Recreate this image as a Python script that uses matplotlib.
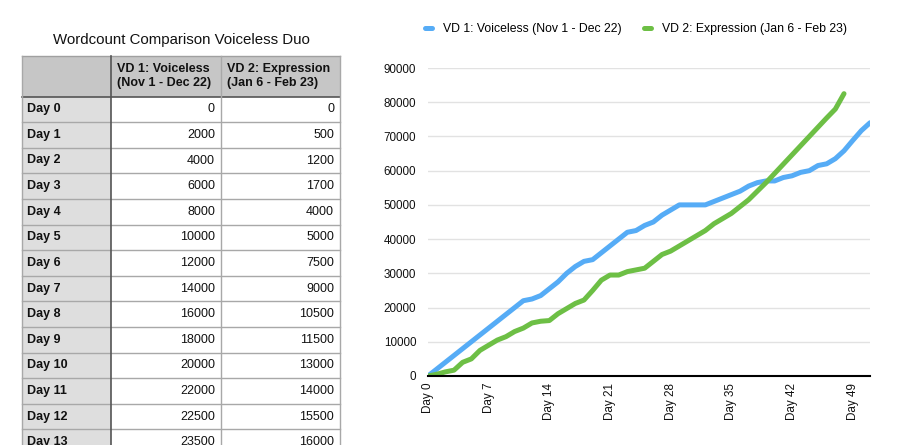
import numpy as np
import matplotlib
matplotlib.use("Agg")
import matplotlib.pyplot as plt
from matplotlib.patches import Rectangle

plt.rcParams['font.family'] = ['Liberation Sans', 'DejaVu Sans']

# word counts per day
vd1 = [0, 2000, 4000, 6000, 8000, 10000, 12000, 14000, 16000, 18000,
       20000, 22000, 22500, 23500, 25500, 27500, 30000, 32000, 33500, 34000,
       36000, 38000, 40000, 42000, 42500, 44000, 45000, 47000, 48500, 50000,
       50000, 50000, 50000, 51000, 52000, 53000, 54000, 55500, 56500, 57000,
       57000, 58000, 58500, 59500, 60000, 61500, 62000, 63500, 65800, 68800,
       71700, 74000]
vd2 = [0, 500, 1200, 1700, 4000, 5000, 7500, 9000, 10500, 11500,
       13000, 14000, 15500, 16000, 16200, 18200, 19700, 21200, 22200, 25000,
       28000, 29500, 29500, 30500, 31000, 31500, 33500, 35500, 36500, 38000,
       39500, 41000, 42500, 44500, 46000, 47500, 49500, 51500, 54000, 56500,
       59200, 61900, 64600, 67300, 70000, 72700, 75400, 78000, 82500]

label1 = "VD 1: Voiceless (Nov 1 - Dec 22)"
label2 = "VD 2: Expression (Jan 6 - Feb 23)"
head1 = "VD 1: Voiceless\n(Nov 1 - Dec 22)"
head2 = "VD 2: Expression\n(Jan 6 - Feb 23)"
table_rows = 14

blue = "#56acf6"
green = "#6dbf45"

fig = plt.figure(figsize=(9.01, 4.45), dpi=100)

# ---- table on the left (pixel coordinates) ----
tab = fig.add_axes([0, 0, 1, 1])
tab.set_xlim(0, 901)
tab.set_ylim(445, 0)
tab.axis("off")

cols = [22, 111, 221, 340]
top, head_h, row_h = 55.5, 41, 25.6
fs = 9

tab.text(181, 40, "Wordcount Comparison Voiceless Duo", ha="center", va="center",
         fontsize=10.8, color="#111111")

# header
tab.add_patch(Rectangle((cols[0], top), cols[3] - cols[0], head_h,
                        facecolor="#c6c6c6", edgecolor="none"))
tab.text(cols[1] + 6, top + head_h / 2, head1, ha="left", va="center",
         fontsize=fs, fontweight="bold", linespacing=1.3, color="#111111")
tab.text(cols[2] + 6, top + head_h / 2, head2, ha="left", va="center",
         fontsize=fs, fontweight="bold", linespacing=1.3, color="#111111")

for i in range(table_rows):
    y0 = top + head_h + i * row_h
    tab.add_patch(Rectangle((cols[0], y0), cols[1] - cols[0], row_h,
                            facecolor="#dedede", edgecolor="none"))
    tab.text(cols[0] + 5, y0 + row_h / 2, "Day %d" % i, ha="left", va="center",
             fontsize=fs, fontweight="bold", color="#111111")
    tab.text(cols[2] - 6, y0 + row_h / 2, str(vd1[i]), ha="right", va="center",
             fontsize=fs, color="#111111")
    tab.text(cols[3] - 6, y0 + row_h / 2, str(vd2[i]), ha="right", va="center",
             fontsize=fs, color="#111111")
    tab.plot([cols[0], cols[3]], [y0 + row_h, y0 + row_h], color="#a8a8a8", lw=1)

bottom = top + head_h + table_rows * row_h
tab.plot([cols[0], cols[3]], [top, top], color="#a0a0a0", lw=1)
tab.plot([cols[0], cols[3]], [top + head_h, top + head_h], color="#555555", lw=1.2)
for j, cx in enumerate(cols):
    c = "#555555" if j == 1 else "#a8a8a8"
    tab.plot([cx, cx], [top, bottom], color=c, lw=1.2 if j == 1 else 1)

# ---- line chart on the right ----
ax = fig.add_axes([428 / 901, 1 - 376 / 445, 442 / 901, 308 / 445])
ax.plot(range(len(vd1)), vd1, color=blue, lw=3.6, solid_joinstyle="round",
        solid_capstyle="round", label=label1)
ax.plot(range(len(vd2)), vd2, color=green, lw=3.6, solid_joinstyle="round",
        solid_capstyle="round", label=label2)

ax.set_xlim(0, len(vd1) - 1)
ax.set_ylim(0, 90000)
ax.set_yticks(np.arange(0, 90001, 10000))
ax.set_xticks(range(0, len(vd1), 7))
ax.set_xticklabels(["Day %d" % d for d in range(0, len(vd1), 7)], rotation=90,
                   fontsize=8.4, color="#111111")
ax.tick_params(axis="y", labelsize=8.4, labelcolor="#111111", length=0, pad=8.5)
ax.tick_params(axis="x", length=0, pad=5)
ax.grid(axis="y", color="#e2e2e2", lw=1)
ax.set_axisbelow(True)
for s in ["top", "right", "left"]:
    ax.spines[s].set_visible(False)
ax.spines["bottom"].set_color("black")
ax.spines["bottom"].set_linewidth(1.5)
ax.spines["bottom"].set_zorder(5)

fig.legend(loc="center", bbox_to_anchor=(636 / 901, 1 - 29 / 445), ncol=2,
           frameon=False, fontsize=8.8, handlelength=0.6, handletextpad=0.9,
           columnspacing=1.8)

fig.savefig("out.png", dpi=100)
